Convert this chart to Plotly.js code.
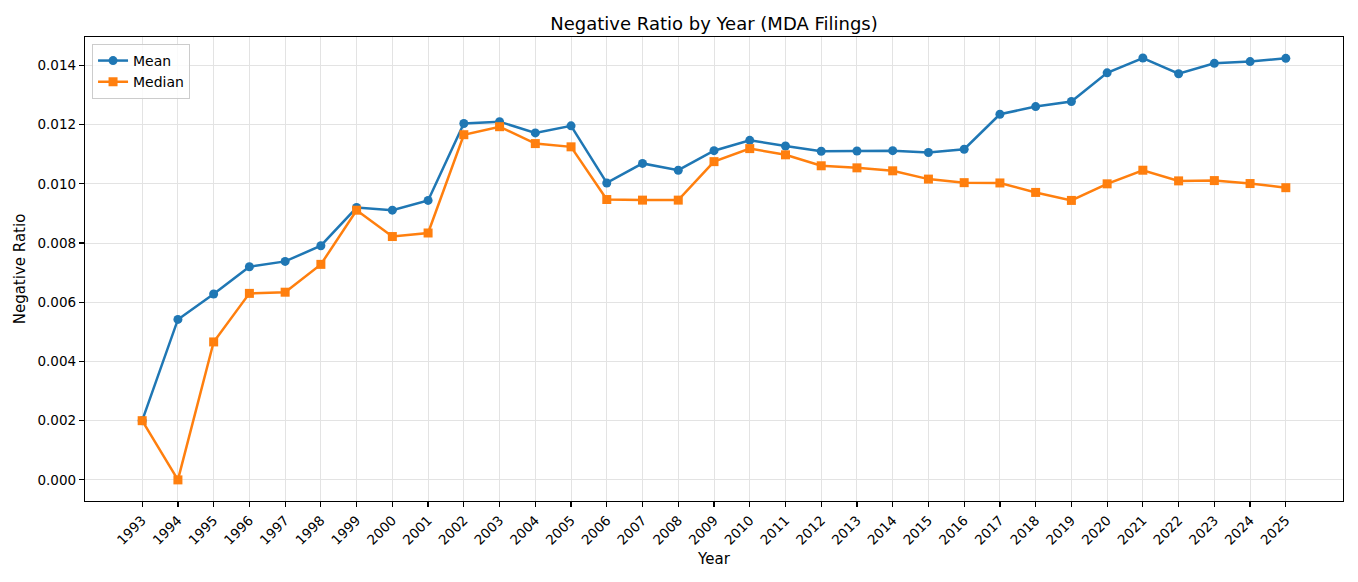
<!DOCTYPE html>
<html>
<head>
<meta charset="utf-8">
<script src="https://cdn.plot.ly/plotly-3.0.1.min.js"></script>
<style>html,body{margin:0;padding:0;background:#fff;}#chart{width:1358px;height:582px;}</style>
</head>
<body>
<div id="chart"></div>
<script>
const years = [1993,1994,1995,1996,1997,1998,1999,2000,2001,2002,2003,2004,2005,2006,2007,2008,2009,2010,2011,2012,2013,2014,2015,2016,2017,2018,2019,2020,2021,2022,2023,2024,2025];
const meanValues = [0.0020,0.00542,0.00628,0.00720,0.00738,0.00791,0.00920,0.00911,0.00944,0.01204,0.01210,0.01172,0.01196,0.01003,0.01069,0.01046,0.01112,0.01147,0.01128,0.01110,0.01111,0.01112,0.01106,0.01117,0.01235,0.01261,0.01278,0.01375,0.01425,0.01372,0.01407,0.01413,0.01424];
const medianValues = [0.0020,0.0000,0.00466,0.00630,0.00634,0.00728,0.00911,0.00822,0.00834,0.01166,0.01193,0.01136,0.01125,0.00947,0.00945,0.00945,0.01075,0.01119,0.01098,0.01061,0.01054,0.01044,0.01016,0.01004,0.01003,0.00971,0.00944,0.01000,0.01046,0.01010,0.01011,0.01001,0.00987];
const yTicks = [0,0.002,0.004,0.006,0.008,0.010,0.012,0.014];
const yTickLabels = ["0.000","0.002","0.004","0.006","0.008","0.010","0.012","0.014"];
const xTickLabels = years.map(String);

const font = "DejaVu Sans, sans-serif";
const traces = [
  {x: years, y: meanValues, name: "Mean", type: "scatter", mode: "lines+markers",
   line: {color: "#1f77b4", width: 2.5}, marker: {symbol: "circle", size: 9, color: "#1f77b4"}},
  {x: years, y: medianValues, name: "Median", type: "scatter", mode: "lines+markers",
   line: {color: "#ff7f0e", width: 2.5}, marker: {symbol: "square", size: 9, color: "#ff7f0e"}}
];
const axisCommon = {showline: true, mirror: true, linecolor: "#000", linewidth: 1.2,
  ticks: "outside", ticklen: 5, tickwidth: 1.2, tickcolor: "#000",
  showgrid: true, gridcolor: "#e3e3e3", gridwidth: 1, zeroline: false,
  tickfont: {family: font, size: 13.5, color: "#000"}};
const layout = {
  width: 1358, height: 582,
  margin: {l: 85, r: 15, t: 37, b: 81},
  paper_bgcolor: "#fff", plot_bgcolor: "#fff",
  font: {family: font, color: "#000"},
  title: {text: "Negative Ratio by Year (MDA Filings)", font: {family: font, size: 18, color: "#000"},
          x: 0.5258, xanchor: "center", y: 0.96, yanchor: "middle"},
  xaxis: Object.assign({}, axisCommon, {
    type: "linear", range: [1991.4, 2026.6], tickmode: "array", tickvals: years, ticktext: xTickLabels,
    tickangle: -45,
    title: {text: "Year", font: {family: font, size: 15, color: "#000"}, standoff: 6}}),
  yaxis: Object.assign({}, axisCommon, {
    range: [-0.000713, 0.01496], tickmode: "array", tickvals: yTicks, ticktext: yTickLabels,
    title: {text: "Negative Ratio", font: {family: font, size: 15, color: "#000"}, standoff: 8}}),
  showlegend: true,
  legend: {x: 0.0056, y: 0.985, xanchor: "left", yanchor: "top", bgcolor: "rgba(255,255,255,0.8)",
           bordercolor: "#cccccc", borderwidth: 1, font: {family: font, size: 14, color: "#000"},
           tracegroupgap: 0}
};
Plotly.newPlot("chart", traces, layout, {displayModeBar: false, staticPlot: true});
</script>
</body>
</html>
